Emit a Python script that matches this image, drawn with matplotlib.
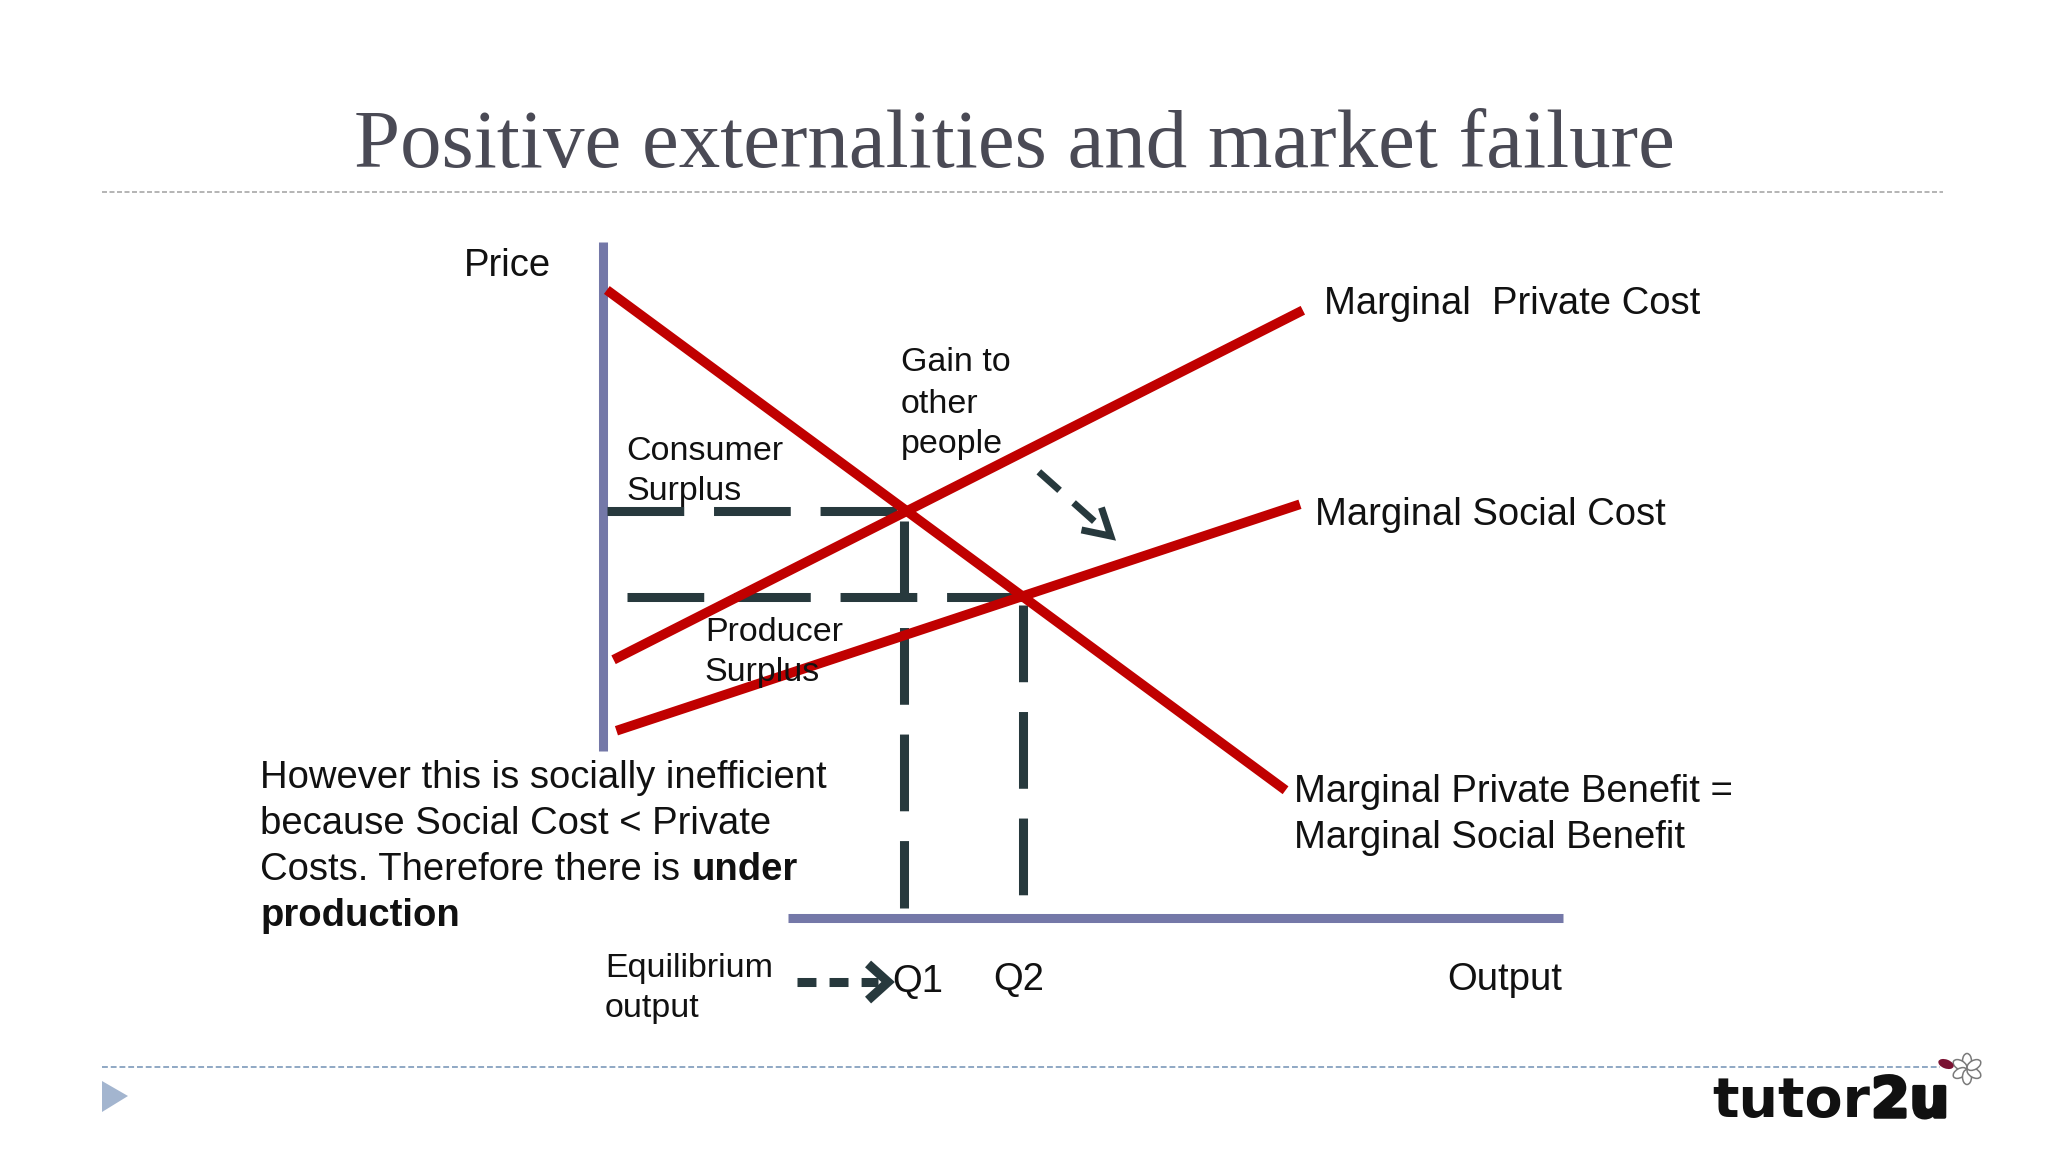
import numpy as np
import matplotlib
matplotlib.use("Agg")
import matplotlib.pyplot as plt
from matplotlib.patches import Polygon, Ellipse
import matplotlib.patheffects as pe

W, H = 2048, 1152

# chart units: output (x) 0..100, price (y) 0..100
PRICE_AXIS_Q = [0, 0];      PRICE_AXIS_P = [24.7, 100]
OUTPUT_AXIS_Q = [19.3, 100]; OUTPUT_AXIS_P = [0, 0]
MPB_Q = [0.4, 71.1]; MPB_P = [92.9, 18.9]     # marginal private benefit = MSB
MPC_Q = [1.1, 72.9]; MPC_P = [38.2, 89.9]     # marginal private cost
MSC_Q = [1.4, 72.6]; MSC_P = [27.7, 61.2]     # marginal social cost
Q1, P1 = 31.4, 60.2          # market equilibrium
Q2, P2 = 43.7, 47.5          # social optimum
P1_START, P2_START = 0.4, 2.5
Q1_TOP, Q1_BOT = 58.7, 1.5
Q2_TOP, Q2_BOT = 46.3, 2.8
GAIN_Q = [45.4, 52.9]; GAIN_P = [66.0, 56.5]
EQ_Q = [20.2, 28.65, 29.7]; EQ_P = -9.47

# labels: (text, q, p, ha, size)
LABELS = [
    ("Price", -14.5, 95.0, "left", 27.5),
    ("Marginal  Private Cost", 75.1, 89.4, "left", 27.5),
    ("Marginal Social Cost", 74.2, 58.1, "left", 27.5),
    ("Marginal Private Benefit =", 72.0, 17.2, "left", 27.5),
    ("Marginal Social Benefit", 72.0, 10.4, "left", 27.5),
    ("Gain to", 31.0, 80.9, "left", 24.5),
    ("other", 31.0, 74.7, "left", 24.5),
    ("people", 31.0, 68.8, "left", 24.5),
    ("Consumer", 2.4, 67.8, "left", 24.5),
    ("Surplus", 2.4, 61.8, "left", 24.5),
    ("Producer", 10.6, 41.0, "left", 24.5),
    ("Surplus", 10.6, 35.0, "left", 24.5),
    ("However this is socially inefficient", -35.7, 19.3, "left", 27.5),
    ("because Social Cost < Private", -35.7, 12.5, "left", 27.5),
    ("Equilibrium", 0.2, -8.7, "left", 24.5),
    ("output", 0.2, -14.7, "left", 24.5),
    ("Q1", 30.1, -11.0, "left", 27.5),
    ("Q2", 40.7, -10.6, "left", 27.5),
    ("Output", 99.9, -10.6, "right", 27.5),
]
NOTE_L3 = ("Costs. Therefore there is", "under", -35.7, 5.6)
NOTE_L4 = ("production", -35.7, -1.2)

RED = "#C00000"
DASH = "#27393D"
AXC = "#7478A8"
TXT = "#111111"
SANS = ["Liberation Sans", "DejaVu Sans"]

fig = plt.figure(figsize=(20.48, 11.52), dpi=100)
fig.patch.set_facecolor("white")
over = fig.add_axes([0, 0, 1, 1]); over.set_xlim(0, W); over.set_ylim(H, 0); over.axis("off")
ax = fig.add_axes([603/W, 1-918/H, (1563-603)/W, (918-242)/H])
ax.set_xlim(0, 100); ax.set_ylim(0, 100); ax.axis("off")

# --- slide decoration
title = over.text(1014, 167, "Positive externalities and market failure", ha="center", va="baseline",
                  fontsize=52, family=["Liberation Serif", "DejaVu Serif"], color="#4A4A55")
r = fig.canvas.get_renderer()
w = title.get_window_extent(r).width
title.set_fontsize(52*1323/w)
over.plot([102, 1943], [192, 192], color="#A8A8A8", lw=1.2, ls=(0, (3, 1.5)))
over.plot([102, 1940], [1067, 1067], color="#8FA8C4", lw=1.4, ls=(0, (3, 1.5)))
over.add_patch(Polygon([[102, 1081], [102, 1112], [128, 1096]], closed=True, color="#A3B5CF", lw=0))
t1 = over.text(1712, 1117, "tutor", ha="left", va="baseline", fontsize=40, fontweight="bold",
               family="DejaVu Sans", color="#111111")
x1 = t1.get_window_extent(r).x1
over.text(x1 + 1, H - 1117, "2u", ha="left", va="baseline", fontsize=40, fontweight="bold",
          family="DejaVu Sans", color="#111111", transform=None,
          path_effects=[pe.withStroke(linewidth=2.5, foreground="#111111")])
for k in range(6):
    a = np.deg2rad(90 + 60*k)
    over.add_patch(Ellipse((1967 + 8*np.cos(a), 1069 - 8*np.sin(a)), 9, 15,
                           angle=-(np.rad2deg(a) - 90), fc="white", ec="#7A7A7A", lw=1.1))
over.add_patch(Ellipse((1946, 1064), 16, 9, angle=20, fc="#7A1232", ec="none"))

# --- axes
ax.plot(PRICE_AXIS_Q, PRICE_AXIS_P, color=AXC, lw=6.5, solid_capstyle="butt", clip_on=False)
ax.plot(OUTPUT_AXIS_Q, OUTPUT_AXIS_P, color=AXC, lw=6.5, solid_capstyle="butt", clip_on=False)

# --- dashed guides
dsh = dict(color=DASH, lw=6.5, ls=(0, (8.5, 3.3)), dash_capstyle="butt", clip_on=False)
ax.plot([P1_START, Q1], [P1, P1], **dsh)
ax.plot([P2_START, Q2], [P2, P2], **dsh)
ax.plot([Q1, Q1], [Q1_TOP, Q1_BOT], **dsh)
ax.plot([Q2, Q2], [Q2_TOP, Q2_BOT], **dsh)

# --- curves
for q, p in [(MPB_Q, MPB_P), (MPC_Q, MPC_P), (MSC_Q, MSC_P)]:
    ax.plot(q, p, color=RED, lw=7, solid_capstyle="butt", clip_on=False)

# --- arrows (heads worked out in pixel space)
inv = ax.transData.inverted()
def head(tip, d, length, half):
    d = d/np.hypot(*d)
    pts = []
    for s in (1, -1):
        c, sn = np.cos(s*half), np.sin(s*half)
        v = np.array([c*d[0] - sn*d[1], sn*d[0] + c*d[1]])
        pts.append(tip - length*v)
    return np.array([pts[0], tip, pts[1]])

g0 = ax.transData.transform((GAIN_Q[0], GAIN_P[0])); g1 = ax.transData.transform((GAIN_Q[1], GAIN_P[1]))
gd = g1 - g0
ge = inv.transform(g1 - 20*gd/np.hypot(*gd))
ax.plot([GAIN_Q[0], ge[0]], [GAIN_P[0], ge[1]], color=DASH, lw=5, ls=(0, (4, 2.7)),
        dash_capstyle="butt", clip_on=False)
hv = inv.transform(head(g1, gd, 30, np.deg2rad(30)))
ax.plot(hv[:, 0], hv[:, 1], color=DASH, lw=5, solid_joinstyle="miter", solid_capstyle="butt", clip_on=False)

ax.plot(EQ_Q[:2], [EQ_P, EQ_P], color=DASH, lw=6.5, ls=(0, (2.1, 1.45)), dash_capstyle="butt", clip_on=False)
e1 = ax.transData.transform((EQ_Q[2], EQ_P))
hv = inv.transform(head(e1, np.array([1.0, 0.0]), 27, np.deg2rad(42)))
ax.plot(hv[:, 0], hv[:, 1], color=DASH, lw=6.5, solid_joinstyle="miter", solid_capstyle="butt", clip_on=False)

# --- text
for s, q, p, ha, fs in LABELS:
    ax.text(q, p, s, ha=ha, va="baseline", fontsize=fs, family=SANS, color=TXT)
a, b, q, p = NOTE_L3
t3 = ax.text(q, p, a, ha="left", va="baseline", fontsize=27.5, family=SANS, color=TXT)
x3 = t3.get_window_extent(r).x1 + 11
y3 = ax.transData.transform((q, p))[1]
ax.text(x3, y3, b, ha="left", va="baseline", fontsize=27.5, family=SANS, color=TXT,
        fontweight="bold", transform=None)
s, q, p = NOTE_L4
ax.text(q, p, s, ha="left", va="baseline", fontsize=27.5, family=SANS, color=TXT, fontweight="bold")

fig.savefig("out.png", dpi=100)
